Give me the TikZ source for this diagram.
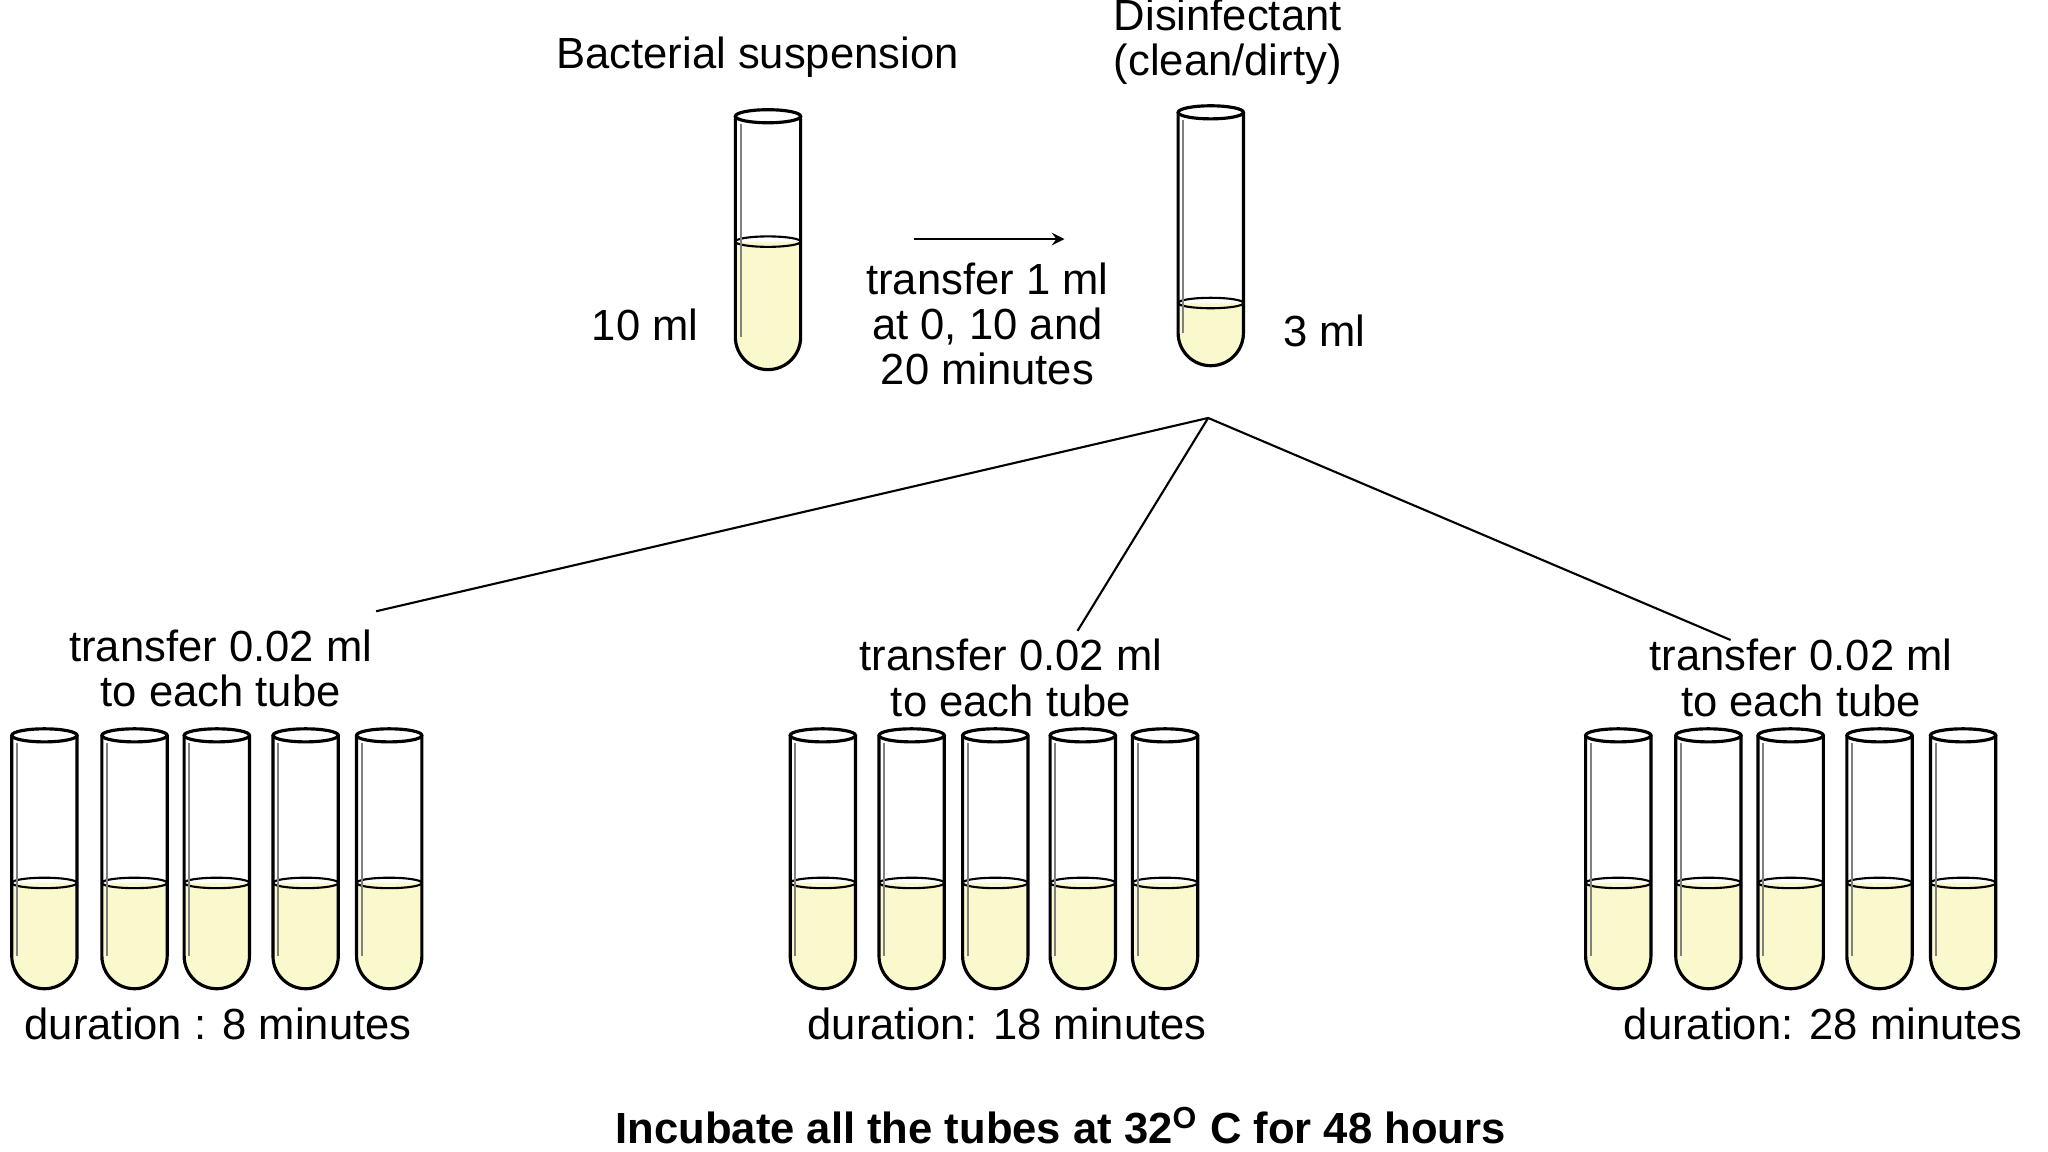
\documentclass[tikz,border=0pt]{standalone}
\usepackage{fontspec}
\setmainfont{Liberation Sans}
\definecolor{liq}{RGB}{250,248,205}
\begin{document}
\begin{tikzpicture}[x=0.01306cm,y=-0.01306cm,
  lbl/.style={font=\fontsize{12.4}{12.9}\selectfont,align=center,inner sep=0},
  ln/.style={line width=0.6pt}]
\useasboundingbox (0,0) rectangle (1568,882);
\newcommand{\tube}[4]{%
  \pgfmathsetmacro{\r}{25}
  \fill[liq] (#1,#4) -- (#1,#3-\r) arc[start angle=180,end angle=0,x radius=\r,y radius=\r] -- (#1+2*\r,#4) -- cycle;
  \draw[ln] (#1+\r,#4) ellipse[x radius=\r,y radius=4];
  \draw[line width=0.9pt] (#1,#2) -- (#1,#3-\r) arc[start angle=180,end angle=0,x radius=\r,y radius=\r] -- (#1+2*\r,#2);
  \draw[line width=0.9pt] (#1+\r,#2) ellipse[x radius=\r,y radius=5];
  \draw[ln,gray] (#1+4,#2+6) -- (#1+4,#3-\r);
}
\tube{563}{89}{283}{185}
\tube{902}{86}{280}{232}
\foreach \x in {9,78,141,209,273,605,673,737,804,867,1214,1283,1346,1414,1478}{\tube{\x}{563}{757}{676}}
\node[lbl] (bs) at (580,44) {Bacterial suspension};
\node[lbl] (dis) at (940,32) {Disinfectant\\(clean/dirty)};
\node[lbl] (ten) at (494,249) {10 ml};
\node[lbl] (three) at (1014,253) {3 ml};
\node[lbl] (tr) at (756,248) {transfer 1 ml\\ at 0, 10 and\\ 20 minutes};
\coordinate (a1) at (700,183); \coordinate (a2) at (815,183);
\draw[ln,-stealth] (a1) -- (a2);
\coordinate (hub) at (925,320);
\coordinate (l1) at (288,468); \coordinate (l2) at (825,483); \coordinate (l3) at (1325,490);
\draw[ln] (l1) -- (hub) -- (l3); \draw[ln] (hub) -- (l2);
\node[lbl] (t1) at (169,512) {transfer 0.02 ml\\to each tube};
\node[lbl] (t2) at (774,519) {transfer 0.02 ml\\to each tube};
\node[lbl] (t3) at (1379,519) {transfer 0.02 ml\\to each tube};
\node[lbl] (d1) at (167,784) {duration : 8 minutes};
\node[lbl] (d2) at (771,784) {duration: 18 minutes};
\node[lbl] (d3) at (1396,784) {duration: 28 minutes};
\node[lbl,font=\fontsize{12.4}{14}\selectfont\bfseries] (inc) at (812,862) {Incubate all the tubes at 32\textsuperscript{O} C for 48 hours};
\end{tikzpicture}
\end{document}
